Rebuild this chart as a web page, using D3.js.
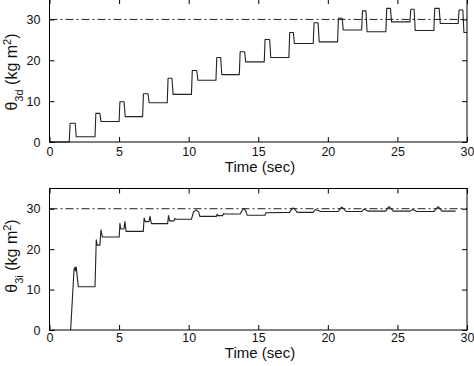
<!DOCTYPE html>
<html>
<head>
<meta charset="utf-8">
<script src="https://cdn.jsdelivr.net/npm/d3@7"></script>
<style>
  body { margin: 0; background: #fff; }
  svg { display: block; font-family: "Liberation Sans", Arial, sans-serif; }
</style>
</head>
<body>
<svg id="chart" width="474" height="366"></svg>
<script>
// desired inertia (top) and identified inertia (bottom), [time, value]
const thetaD = [
  [0, 0], [1.42, 0], [1.48, 4.6], [1.85, 4.6], [1.92, 1.3], [3.27, 1.3], [3.33, 7.0], [3.62, 7.0], [3.7, 5.0],
  [5.0, 5.0], [5.06, 9.85], [5.36, 9.85], [5.44, 6.2], [6.69, 6.2], [6.75, 11.8], [7.08, 11.8], [7.16, 9.6],
  [8.46, 9.6], [8.52, 15.6], [8.8, 15.6], [8.88, 11.65], [10.2, 11.65], [10.26, 17.5], [10.58, 17.5], [10.66, 15.1],
  [11.96, 15.1], [12.02, 20.7], [12.3, 20.7], [12.38, 16.5], [13.64, 16.5], [13.7, 22.1], [14.02, 22.1], [14.1, 19.6],
  [15.43, 19.6], [15.49, 25.1], [15.82, 25.1], [15.9, 20.7], [17.2, 20.7], [17.26, 26.8], [17.52, 26.8], [17.6, 24.1],
  [18.95, 24.1], [19.01, 29.2], [19.3, 29.2], [19.38, 24.5], [20.7, 24.5], [20.76, 30.3], [21.03, 30.3], [21.11, 27.4],
  [22.43, 27.4], [22.49, 32.1], [22.74, 32.1], [22.82, 27.0], [24.17, 27.0], [24.23, 32.7], [24.5, 32.7], [24.58, 29.4],
  [25.9, 29.4], [25.96, 32.5], [26.2, 32.5], [26.28, 27.3], [27.62, 27.3], [27.68, 32.7], [28.0, 32.7], [28.08, 29.0],
  [29.37, 29.0], [29.43, 32.3], [29.7, 32.3], [29.78, 26.8], [30, 26.8]
];

const thetaI = [
  [1.52, 0], [1.76, 14.9], [1.82, 15.5], [1.86, 14.6], [1.92, 15.6], [2.07, 10.7], [3.27, 10.7], [3.36, 22.3],
  [3.42, 21.0], [3.62, 21.0], [3.7, 24.8], [3.8, 23.0], [5.01, 23.0], [5.06, 26.4], [5.12, 25.0], [5.35, 25.0],
  [5.42, 26.8], [5.5, 24.4], [6.74, 24.4], [6.8, 27.7], [6.88, 26.8], [7.15, 26.8], [7.22, 28.1], [7.32, 26.3],
  [8.49, 26.3], [8.55, 28.3], [8.63, 27.0], [8.95, 27.0], [9.0, 27.6], [9.08, 27.4], [10.2, 27.4], [10.35, 29.2],
  [10.55, 29.7], [10.72, 29.2], [10.8, 28.1], [12.0, 28.1], [12.05, 28.7], [12.1, 28.3], [12.45, 28.3], [12.5, 28.8],
  [12.55, 28.7], [13.7, 28.7], [13.85, 29.6], [13.97, 30.0], [14.1, 29.5], [14.2, 28.4], [15.48, 28.4], [15.55, 29.0],
  [17.25, 29.1], [17.4, 29.9], [17.5, 30.2], [17.65, 29.8], [17.8, 29.1], [18.95, 29.1], [19.1, 29.8], [19.25, 29.6],
  [19.5, 29.3], [20.75, 29.3], [20.9, 30.1], [21.0, 30.4], [21.15, 30.0], [21.3, 29.3], [22.43, 29.3], [22.6, 29.9],
  [22.9, 29.4], [24.17, 29.4], [24.3, 30.2], [24.4, 30.5], [24.55, 30.0], [24.7, 29.4], [25.9, 29.4], [26.1, 29.8],
  [26.4, 29.3], [27.62, 29.3], [27.8, 30.1], [27.93, 30.5], [28.05, 30.1], [28.2, 29.4], [29.18, 29.4]
];

const reference = 30;
const xTicks = [0, 5, 10, 15, 20, 25, 30];
const yTicks = [0, 10, 20, 30];

const svg = d3.select("#chart");
const left = 49.5;
const right = 467;

function drawPanel(config) {
  const { top, bottom, data, sub, labelY, tickGap, titleY } = config;

  const x = d3.scaleLinear().domain([0, 30]).range([left, right]);
  const y = d3.scaleLinear().domain([0, 35]).range([bottom, top]);

  const g = svg.append("g");

  // reference dash-dot
  g.append("line")
    .attr("x1", x(0)).attr("x2", x(30))
    .attr("y1", y(reference)).attr("y2", y(reference))
    .attr("stroke", "#222").attr("stroke-width", 1)
    .attr("stroke-dasharray", "8,3,2,3");

  const line = d3.line().x((d) => x(d[0])).y((d) => y(d[1]));
  g.append("path")
    .datum(data)
    .attr("d", line)
    .attr("fill", "none")
    .attr("stroke", "#222")
    .attr("stroke-width", 1.1)
    .attr("stroke-linejoin", "round");

  // box with inward ticks on all sides
  g.append("rect")
    .attr("x", left).attr("y", top)
    .attr("width", right - left).attr("height", bottom - top)
    .attr("fill", "none").attr("stroke", "#000").attr("stroke-width", 1);

  const axB = d3.axisBottom(x).tickValues(xTicks).tickSize(-5).tickPadding(tickGap).tickFormat(d3.format("d"));
  const axT = d3.axisTop(x).tickValues(xTicks).tickSize(-5).tickFormat("");
  const axL = d3.axisLeft(y).tickValues(yTicks).tickSize(-5).tickPadding(9).tickFormat(d3.format("d"));
  const axR = d3.axisRight(y).tickValues(yTicks).tickSize(-5).tickFormat("");

  const gb = g.append("g").attr("transform", `translate(0,${bottom})`).call(axB);
  const gt = g.append("g").attr("transform", `translate(0,${top})`).call(axT);
  const gl = g.append("g").attr("transform", `translate(${left},0)`).call(axL);
  const gr = g.append("g").attr("transform", `translate(${right},0)`).call(axR);

  [gb, gt, gl, gr].forEach((a) => {
    a.select(".domain").remove();
    a.selectAll(".tick line").attr("stroke", "#000");
    a.selectAll("text")
      .attr("fill", "#111")
      .style("font-size", "12.5px")
      .style("font-family", "'Liberation Sans', Arial, sans-serif");
  });

  g.append("text")
    .attr("x", 260).attr("y", titleY)
    .attr("text-anchor", "middle")
    .style("font-size", "15px")
    .attr("fill", "#111")
    .text("Time (sec)");

  const yl = g.append("text")
    .attr("transform", `translate(17,${labelY}) rotate(-90)`)
    .attr("text-anchor", "middle")
    .style("font-size", "16px")
    .attr("fill", "#111");
  yl.append("tspan").text("\u03b8");
  yl.append("tspan").attr("baseline-shift", "sub").style("font-size", "11px").text(sub);
  yl.append("tspan").text(" (kg m");
  yl.append("tspan").attr("baseline-shift", "super").style("font-size", "11px").text("2");
  yl.append("tspan").text(")");
}

drawPanel({ top: -1, bottom: 142, data: thetaD, sub: "3d", labelY: 72, tickGap: 5, titleY: 172 });
drawPanel({ top: 188.5, bottom: 330, data: thetaI, sub: "3i", labelY: 256, tickGap: 3, titleY: 358 });
</script>
</body>
</html>
